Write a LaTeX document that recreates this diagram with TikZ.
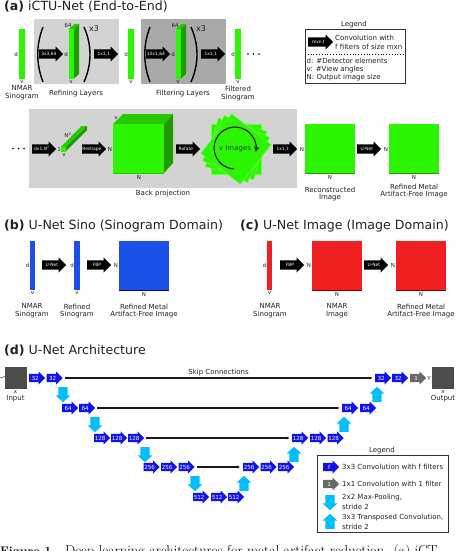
\documentclass[tikz,border=0pt]{standalone}
\usepackage{fontspec}
\setmainfont{DejaVu Sans}
\newfontfamily\capfont{Latin Modern Roman}
\usetikzlibrary{shapes.arrows,arrows.meta}
\definecolor{grn}{HTML}{2BF500}
\definecolor{grnlt}{HTML}{66FF44}
\definecolor{grntop}{HTML}{26C800}
\definecolor{grnside}{HTML}{1F9A00}
\definecolor{blu}{HTML}{1A50E8}
\definecolor{rd}{HTML}{F02020}
\definecolor{cy}{HTML}{00BFFF}
\definecolor{cb}{HTML}{1010F0}
\definecolor{lg}{HTML}{D3D3D3}
\definecolor{mg}{HTML}{A9A9A9}
\definecolor{dk}{HTML}{4D4D4D}
\definecolor{txt}{HTML}{222222}
\newcommand{\fs}[1]{\fontsize{#1}{#1}\selectfont}
\tikzset{
 x=1pt,y=-1pt,
 lbl/.style={inner sep=0pt,text=txt,font=\fs{7},align=center},
 dim/.style={inner sep=0pt,text=txt,font=\fs{5.5}},
 ttl/.style={inner sep=0pt,anchor=west,text=txt,font=\fs{12.6}},
 leg/.style={inner sep=0pt,anchor=west,text=txt,font=\fs{7}},
 oparrow/.style={single arrow,fill=black,draw=none,text height=5.7pt,text depth=3.3pt,minimum width=15pt,minimum height=24pt,single arrow head extend=3pt,single arrow tip angle=90,inner sep=0pt,text=white,font=\fs{4.4},anchor=tail},
 conv/.style={single arrow,fill=cb,draw=none,text height=6pt,text depth=2pt,minimum width=13pt,minimum height=16pt,single arrow head extend=2.5pt,single arrow tip angle=90,inner sep=0pt,text=white,font=\fs{5.6},anchor=tail},
 convg/.style={conv,fill=dk!85!white},
 cyarrow/.style={single arrow,fill=cy,draw=none,text height=9pt,text depth=0pt,text width=1pt,minimum width=14.5pt,minimum height=15pt,single arrow head extend=2.75pt,single arrow tip angle=95,inner sep=0pt,anchor=tail},
 pdown/.style={cyarrow,rotate=-90},
 pup/.style={cyarrow,rotate=90},
 skip/.style={draw=black!90,line width=1.1pt,-{Stealth[length=3pt,width=2.8pt]}},
 paren/.style={draw=black,line width=1.4pt},
}
\begin{document}
\begin{tikzpicture}
\useasboundingbox (0,0) rectangle (474,551);
\fill[white] (0,0) rectangle (474,551);
%% (a)
\node[ttl] (ta) at (4,7) {\textbf{(a)} iCTU-Net (End-to-End)};
\node[fill=lg,inner sep=0pt,minimum width=85pt,minimum height=65pt,anchor=north west] (box1) at (34,19) {};
\node[fill=mg,inner sep=0pt,minimum width=85pt,minimum height=65pt,anchor=north west] (box2) at (141,19) {};
\node[fill=lg,inner sep=0pt,minimum width=268pt,minimum height=79pt,anchor=north west] (box3) at (29,109) {};
% row 1 bars
\node[fill=grn,inner sep=0pt,minimum width=6pt,minimum height=50pt,anchor=north west] (s1) at (19,29) {};
\node[dim] (s1d) at (16,54) {d};
\node[dim] (s1v) at (22,82) {v};
\node[lbl] (s1l) at (22,93) {NMAR\\[1.2pt]Sinogram};
% refining
\draw[paren] (43,27) .. controls (36,45) and (36,64) .. (43,82);
\draw[paren] (84,27) .. controls (92,45) and (92,64) .. (84,82);
\node[oparrow] (a1) at (39,54) {3x3,64};
\node[dim] (bd1) at (66,54) {d};
\fill[grnside] (73.5,29)--(79,24)--(79,74)--(73.5,79)--cycle;
\fill[grntop] (69,29)--(74.5,24)--(79,24)--(73.5,29)--cycle;
\node[fill=grn,inner sep=0pt,minimum width=4.5pt,minimum height=50pt,anchor=north west] (b1) at (69,29) {};
\node[dim] (b1t) at (68,25) {64};
\node[dim] (b1v) at (71,82) {v};
\node[inner sep=0pt,text=txt,font=\fs{8}] (x31) at (94,29) {x3};
\node[oparrow] (a2) at (94,54) {1x1,1};
\node[lbl] (rl) at (76,93.5) {Refining Layers};
\node[fill=grn,inner sep=0pt,minimum width=6pt,minimum height=50pt,anchor=north west] (s2) at (128,29) {};
\node[dim] (s2d) at (126,54) {d};
\node[dim] (s2v) at (131,82) {v};
% filtering
\draw[paren] (150,27) .. controls (143,45) and (143,64) .. (150,82);
\draw[paren] (191,27) .. controls (199,45) and (199,64) .. (191,82);
\node[oparrow] (a3) at (146,54) {10x1,64};
\node[dim] (bd2) at (173,54) {d};
\fill[grnside] (180.5,29)--(186,24)--(186,74)--(180.5,79)--cycle;
\fill[grntop] (176,29)--(181.5,24)--(186,24)--(180.5,29)--cycle;
\node[fill=grn,inner sep=0pt,minimum width=4.5pt,minimum height=50pt,anchor=north west] (b2) at (176,29) {};
\node[dim] (b2t) at (175,25) {64};
\node[dim] (b2v) at (178,82) {v};
\node[inner sep=0pt,text=txt,font=\fs{8}] (x32) at (201,29) {x3};
\node[oparrow] (a4) at (201,54) {1x1,1};
\node[lbl] (fl) at (183,93.5) {Filtering Layers};
\node[fill=grn,inner sep=0pt,minimum width=6pt,minimum height=50pt,anchor=north west] (s3) at (235,29) {};
\node[dim] (s3d) at (233,54) {d};
\node[dim] (s3v) at (238,82) {v};
\node[lbl] (s3l) at (238,93.5) {Filtered\\[1.2pt]Sinogram};
\fill[black] (248,54) circle (.9) (253.5,54) circle (.9) (259,54) circle (.9);
% legend a
\node[lbl] (lta) at (354,25) {Legend};
\node[draw=black!80,line width=.6pt,inner sep=0pt,minimum width=100pt,minimum height=54pt,anchor=north west] (lga) at (305,29) {};
\draw[black,dotted,line width=.8pt] (lga.west |- 0,54.5) -- (lga.east |- 0,54.5);
\node[oparrow,minimum height=25pt] (la) at (308,42) {mxn,f};
\node[leg] (l1) at (335,38) {Convolution with};
\node[leg] (l2) at (335,47) {f filters of size mxn};
\node[leg] (l3) at (306.5,61) {d: \#Detector elements};
\node[leg] (l4) at (306.5,70) {v: \#View angles};
\node[leg] (l5) at (306.5,78) {N: Output image size};
% row 2
\fill[black] (13,148.5) circle (.9) (18.5,148.5) circle (.9) (24,148.5) circle (.9);
\node[oparrow] (a5) at (32,149) {dx1,N\textsuperscript{2}};
\fill[grnside] (65.5,147)--(87,126)--(87,130)--(65.5,151.5)--cycle;
\fill[grntop] (61,147)--(81.5,126)--(87,126)--(65.5,147)--cycle;
\node[fill=grn,inner sep=0pt,minimum width=4.5pt,minimum height=4.5pt,anchor=north west] (bar3d) at (61,147) {};
\node[dim] (n2) at (68,135) {N\textsuperscript{2}};
\node[dim] (one) at (59,149) {1};
\node[dim] (vv) at (64,154.5) {v};
\node[oparrow] (a6) at (82,149) {Reshape};
\node[dim] (cn) at (110,149) {N};
\fill[grnside] (164,124)--(173,114)--(173,163)--(164,173)--cycle;
\fill[grntop] (113,124)--(123,114)--(173,114)--(164,124)--cycle;
\node[fill=grn,inner sep=0pt,minimum width=51pt,minimum height=49pt,anchor=north west] (cube) at (113,124) {};
\draw[grntop,line width=.5pt] (113,173)--(164,173);
\node[dim] (cv) at (116,118) {v};
\node[dim] (cbn) at (139,177) {N};
\node[oparrow] (a7) at (176,149) {Rotate};
\foreach \a in {0,-15,-26,-38}{
 \node[fill=grn,draw=grnlt,line width=.5pt,inner sep=0pt,minimum size=50pt,rotate=\a] at (236,149) {};
}
\node[inner sep=0pt,text=txt!85!green,font=\fs{7}] (vi) at (235,148.5) {v Images};
\coordinate (arcs) at (234,169);
\draw[black,line width=1pt,-{Stealth[length=5pt,width=5pt]}] (arcs) arc[start angle=-93,end angle=-370,radius=21pt];
\node[lbl] (bp) at (163,193.5) {Back projection};
\node[oparrow] (a8) at (273,149) {1x1,1};
\node[dim] (n3) at (302,149) {N};
\node[fill=grn,inner sep=0pt,minimum width=50pt,minimum height=49pt,anchor=north west] (r1) at (305,124) {};
\draw[grnside,line width=.5pt] (305,173)--(355,173);
\node[dim] (n4) at (330,177) {N};
\node[lbl] (rc) at (330,194) {Reconstructed\\[.8pt]Image};
\node[oparrow] (a9) at (357,149) {U-Net};
\node[dim] (n5) at (386,149) {N};
\node[fill=grn,inner sep=0pt,minimum width=50pt,minimum height=49pt,anchor=north west] (r2) at (389,124) {};
\draw[grnside,line width=.5pt] (389,173)--(439,173);
\node[dim] (n6) at (414,177) {N};
\node[lbl] (rf) at (414,191.5) {Refined Metal\\[0pt]Artifact-Free Image};
%% (b)
\node[ttl] (tb) at (4,226) {\textbf{(b)} U-Net Sino (Sinogram Domain)};
\node[fill=blu,inner sep=0pt,minimum width=5pt,minimum height=49pt,anchor=north west] (bb1) at (30,241) {};
\node[dim] (bd) at (27.5,265) {d};
\node[dim] (bv) at (32.5,293) {v};
\node[lbl] (bl1) at (32,311) {NMAR\\[.8pt]Sinogram};
\node[oparrow] (ab1) at (42,265) {U-Net};
\node[fill=blu,inner sep=0pt,minimum width=6pt,minimum height=49pt,anchor=north west] (bb2) at (74,241) {};
\node[dim] (bd2b) at (72,265) {d};
\node[dim] (bv2) at (77,293) {v};
\node[lbl] (bl2) at (77,311) {Refined\\[.8pt]Sinogram};
\node[oparrow] (ab2) at (87,265) {FBP};
\node[dim] (bn) at (116,265) {N};
\node[fill=blu,inner sep=0pt,minimum width=50pt,minimum height=49pt,anchor=north west] (bq) at (119,241) {};
\draw[blue!50!black,line width=.5pt] (119,290)--(169,290);
\node[dim] (bn2) at (144,294) {N};
\node[lbl] (bl3) at (144,311) {Refined Metal\\[.8pt]Artifact-Free Image};
%% (c)
\node[ttl] (tc) at (240,226) {\textbf{(c)} U-Net Image (Image Domain)};
\node[fill=rd,inner sep=0pt,minimum width=5pt,minimum height=49pt,anchor=north west] (cb1) at (267,241) {};
\node[dim] (cd) at (264.5,265) {d};
\node[dim] (cvv) at (269.5,293) {v};
\node[lbl] (cl1) at (270,311) {NMAR\\[.8pt]Sinogram};
\node[oparrow] (ac1) at (280,265) {FBP};
\node[dim] (cn1) at (309,265) {N};
\node[fill=rd,inner sep=0pt,minimum width=50pt,minimum height=49pt,anchor=north west] (cq1) at (312,241) {};
\draw[red!50!black,line width=.5pt] (312,290)--(362,290);
\node[dim] (cn2) at (337,294) {N};
\node[lbl] (cl2) at (337,311) {NMAR\\[.8pt]Image};
\node[oparrow] (ac2) at (364,265) {U-Net};
\node[dim] (cn3) at (393,265) {N};
\node[fill=rd,inner sep=0pt,minimum width=50pt,minimum height=49pt,anchor=north west] (cq2) at (396,241) {};
\draw[red!50!black,line width=.5pt] (396,290)--(446,290);
\node[dim] (cn4) at (421,294) {N};
\node[lbl] (cl3) at (421,311) {Refined Metal\\[.8pt]Artifact-Free Image};
%% (d)
\node[ttl] (td) at (4,351) {\textbf{(d)} U-Net Architecture};
\node[fill=dk,inner sep=0pt,minimum size=22pt,anchor=north west] (inp) at (5,367) {};
\draw[dk,line width=.6pt] (0,378)--(5,376.5);
\node[dim] (ix) at (15.5,392) {x};
\node[lbl] (il) at (15.5,398.5) {Input};
\node[conv] (e1a) at (29,378) {32};
\node[conv] (e1b) at (46.5,378) {32};
\node[pdown] (d1) at (63,387) {};
\node[conv] (e2a) at (62,408) {64};
\node[conv] (e2b) at (79,408) {64};
\node[pdown] (d2) at (95,417) {};
\node[conv] (e3a) at (94,438) {128};
\node[conv] (e3b) at (111,438) {128};
\node[conv] (e3c) at (128,438) {128};
\node[pdown] (d3) at (145,447) {};
\node[conv] (e4a) at (143.5,467) {256};
\node[conv] (e4b) at (161,467) {256};
\node[conv] (e4c) at (178.5,467) {256};
\node[pdown] (d4) at (195,476) {};
\node[conv] (b1x) at (193,497) {512};
\node[conv] (b2x) at (211,497) {512};
\node[conv] (b3x) at (228,497) {512};
\node[pup] (u4) at (244,491) {};
\node[conv] (f4a) at (243,467) {256};
\node[conv] (f4b) at (260.5,467) {256};
\node[conv] (f4c) at (278,467) {256};
\node[pup] (u3) at (294,462) {};
\node[conv] (f3a) at (292,438) {128};
\node[conv] (f3b) at (310,438) {128};
\node[conv] (f3c) at (327.5,438) {128};
\node[pup] (u2) at (344,432) {};
\node[conv] (f2a) at (342,408) {64};
\node[conv] (f2b) at (360,408) {64};
\node[pup] (u1) at (377,402) {};
\node[conv] (f1a) at (375,378) {32};
\node[conv] (f1b) at (392,378) {32};
\node[convg] (g1) at (410,378) {1};
\node[dim] (yy) at (429,378) {Y};
\node[fill=dk,inner sep=0pt,minimum size=22pt,anchor=north west] (out) at (432,367) {};
\node[dim] (ox) at (443,392) {x};
\node[lbl] (ol) at (443,398.5) {Output};
\draw[skip] ([xshift=2pt]e1b.tip) -- ([xshift=-2.5pt]f1a.tail);
\draw[skip] ([xshift=2pt]e2b.tip) -- ([xshift=-2.5pt]f2a.tail);
\draw[skip] ([xshift=2pt]e3c.tip) -- ([xshift=-2.5pt]f3a.tail);
\draw[skip] ([xshift=2pt]e4c.tip) -- ([xshift=-3pt]f4a.tail);
\node[lbl] (sc) at (218.5,373) {Skip Connections};
% legend d
\node[lbl] (ltd) at (382,451) {Legend};
\node[draw=black!80,line width=.7pt,inner sep=0pt,minimum width=131pt,minimum height=77pt,anchor=north west] (lgd) at (317,455) {};
\node[conv] (lc) at (323,467) {f};
\node[convg] (lg1) at (323,484) {1};
\node[pdown] (ld) at (330,495) {};
\node[pup] (lu) at (330,529) {};
\node[leg] (m1) at (342,466.5) {3x3 Convolution with f filters};
\node[leg] (m2) at (342,483.5) {1x1 Convolution with 1 filter};
\node[leg] (m3) at (342,498) {2x2 Max-Pooling,};
\node[leg] (m4) at (342,506.5) {stride 2};
\node[leg] (m5) at (342,518) {3x3 Transposed Convolution,};
\node[leg] (m6) at (342,527) {stride 2};
% caption
\node[inner sep=0pt,anchor=base west,text=black,font={\capfont\fs{12.4}\bfseries}] (capa) at (0,555) {Figure 1.};
\node[inner sep=0pt,anchor=base west,text=black,font={\capfont\fs{14.4}}] (capb) at (65,555) {Deep learning architectures for metal artifact reduction. (a) iCT};
\end{tikzpicture}
\end{document}
